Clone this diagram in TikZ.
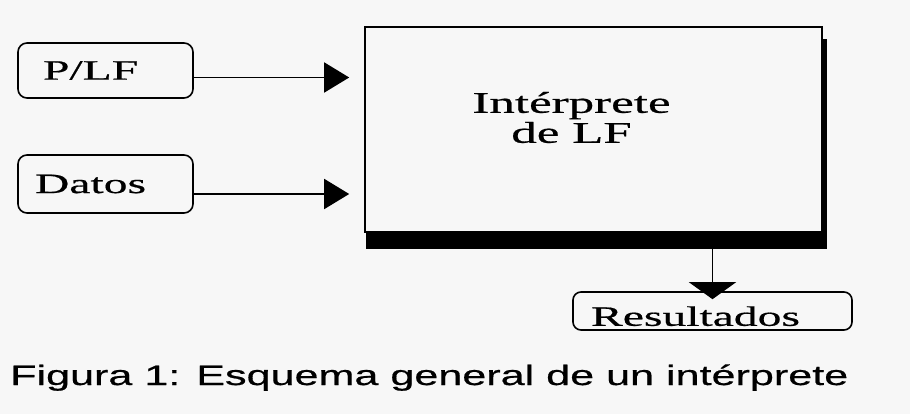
\documentclass[tikz,border=0pt]{standalone}
\usepackage{fontspec}
\setmainfont{Liberation Serif}[FakeStretch=1.7,FakeBold=0.6]
\newfontfamily\captionfont{Liberation Sans}[FakeStretch=1.54,FakeBold=0.6]
\usetikzlibrary{arrows.meta,backgrounds}
\definecolor{paper}{RGB}{247,247,247}
\tikzset{
  inbox/.style={draw, rounded corners=9pt, line width=1.6pt, fill=paper,
    minimum height=55pt, align=left, font=\fontsize{28}{30}\selectfont},
  lbl/.style={inner sep=0pt, align=center, font=\fontsize{28}{30}\selectfont},
  flow/.style={line width=1.6pt, -{Triangle[length=25pt,width=30pt]}},
  outflow/.style={line width=1.6pt, -{Triangle[length=17pt,width=47pt]}},
}
\begin{document}
\begin{tikzpicture}[x=1pt,y=-1pt]
    \useasboundingbox (0,0) rectangle (910,414);
    % inputs
    \node[inbox, inner xsep=25pt, text width=125pt] (plf) at (105.5,70.5) {P/LF};
    \node[inbox, inner xsep=17pt, text width=141pt, minimum height=58pt] (datos) at (105.5,184) {Datos};
    % interpreter
    \node[draw, line width=1.6pt, fill=paper, minimum width=457pt, minimum height=205pt, inner sep=0pt] (interp) at (593.5,129.5) {};
    \node[lbl, font=\fontsize{30}{30}\selectfont] (interptxt) at ([shift={(-22,-12)}]interp.center) {Intérprete\\de LF};
    \begin{scope}[on background layer]
        \fill[paper] (0,0) rectangle (910,414);
        \fill[black] ([shift={(2,16)}]interp.south west) rectangle ([shift={(4,13)}]interp.north east);
    \end{scope}
    % output
    \node[draw, rounded corners=8pt, line width=1.6pt, minimum width=279pt, minimum height=38pt, inner sep=0pt] (res) at (712.5,311) {};
    \node[lbl, anchor=base] (restxt) at ([shift={(-17,-5)}]res.south) {Resultados};
    \draw[flow, shorten >=15pt] ([yshift=-7pt]plf.east) -- ([yshift=-7pt]plf.east -| interp.west);
    \draw[flow, shorten >=15pt] ([yshift=-10pt]datos.east) -- ([yshift=-10pt]datos.east -| interp.west);
    \draw[outflow, shorten >=-8pt] ([yshift=-16pt]interp.south -| res.north) -- (res.north);
    % caption
    \node[inner sep=0pt, anchor=base west, font=\captionfont\fontsize{28}{30}\selectfont] (caption) at (10,385) {Figura 1: Esquema general de un intérprete};
\end{tikzpicture}
\end{document}
